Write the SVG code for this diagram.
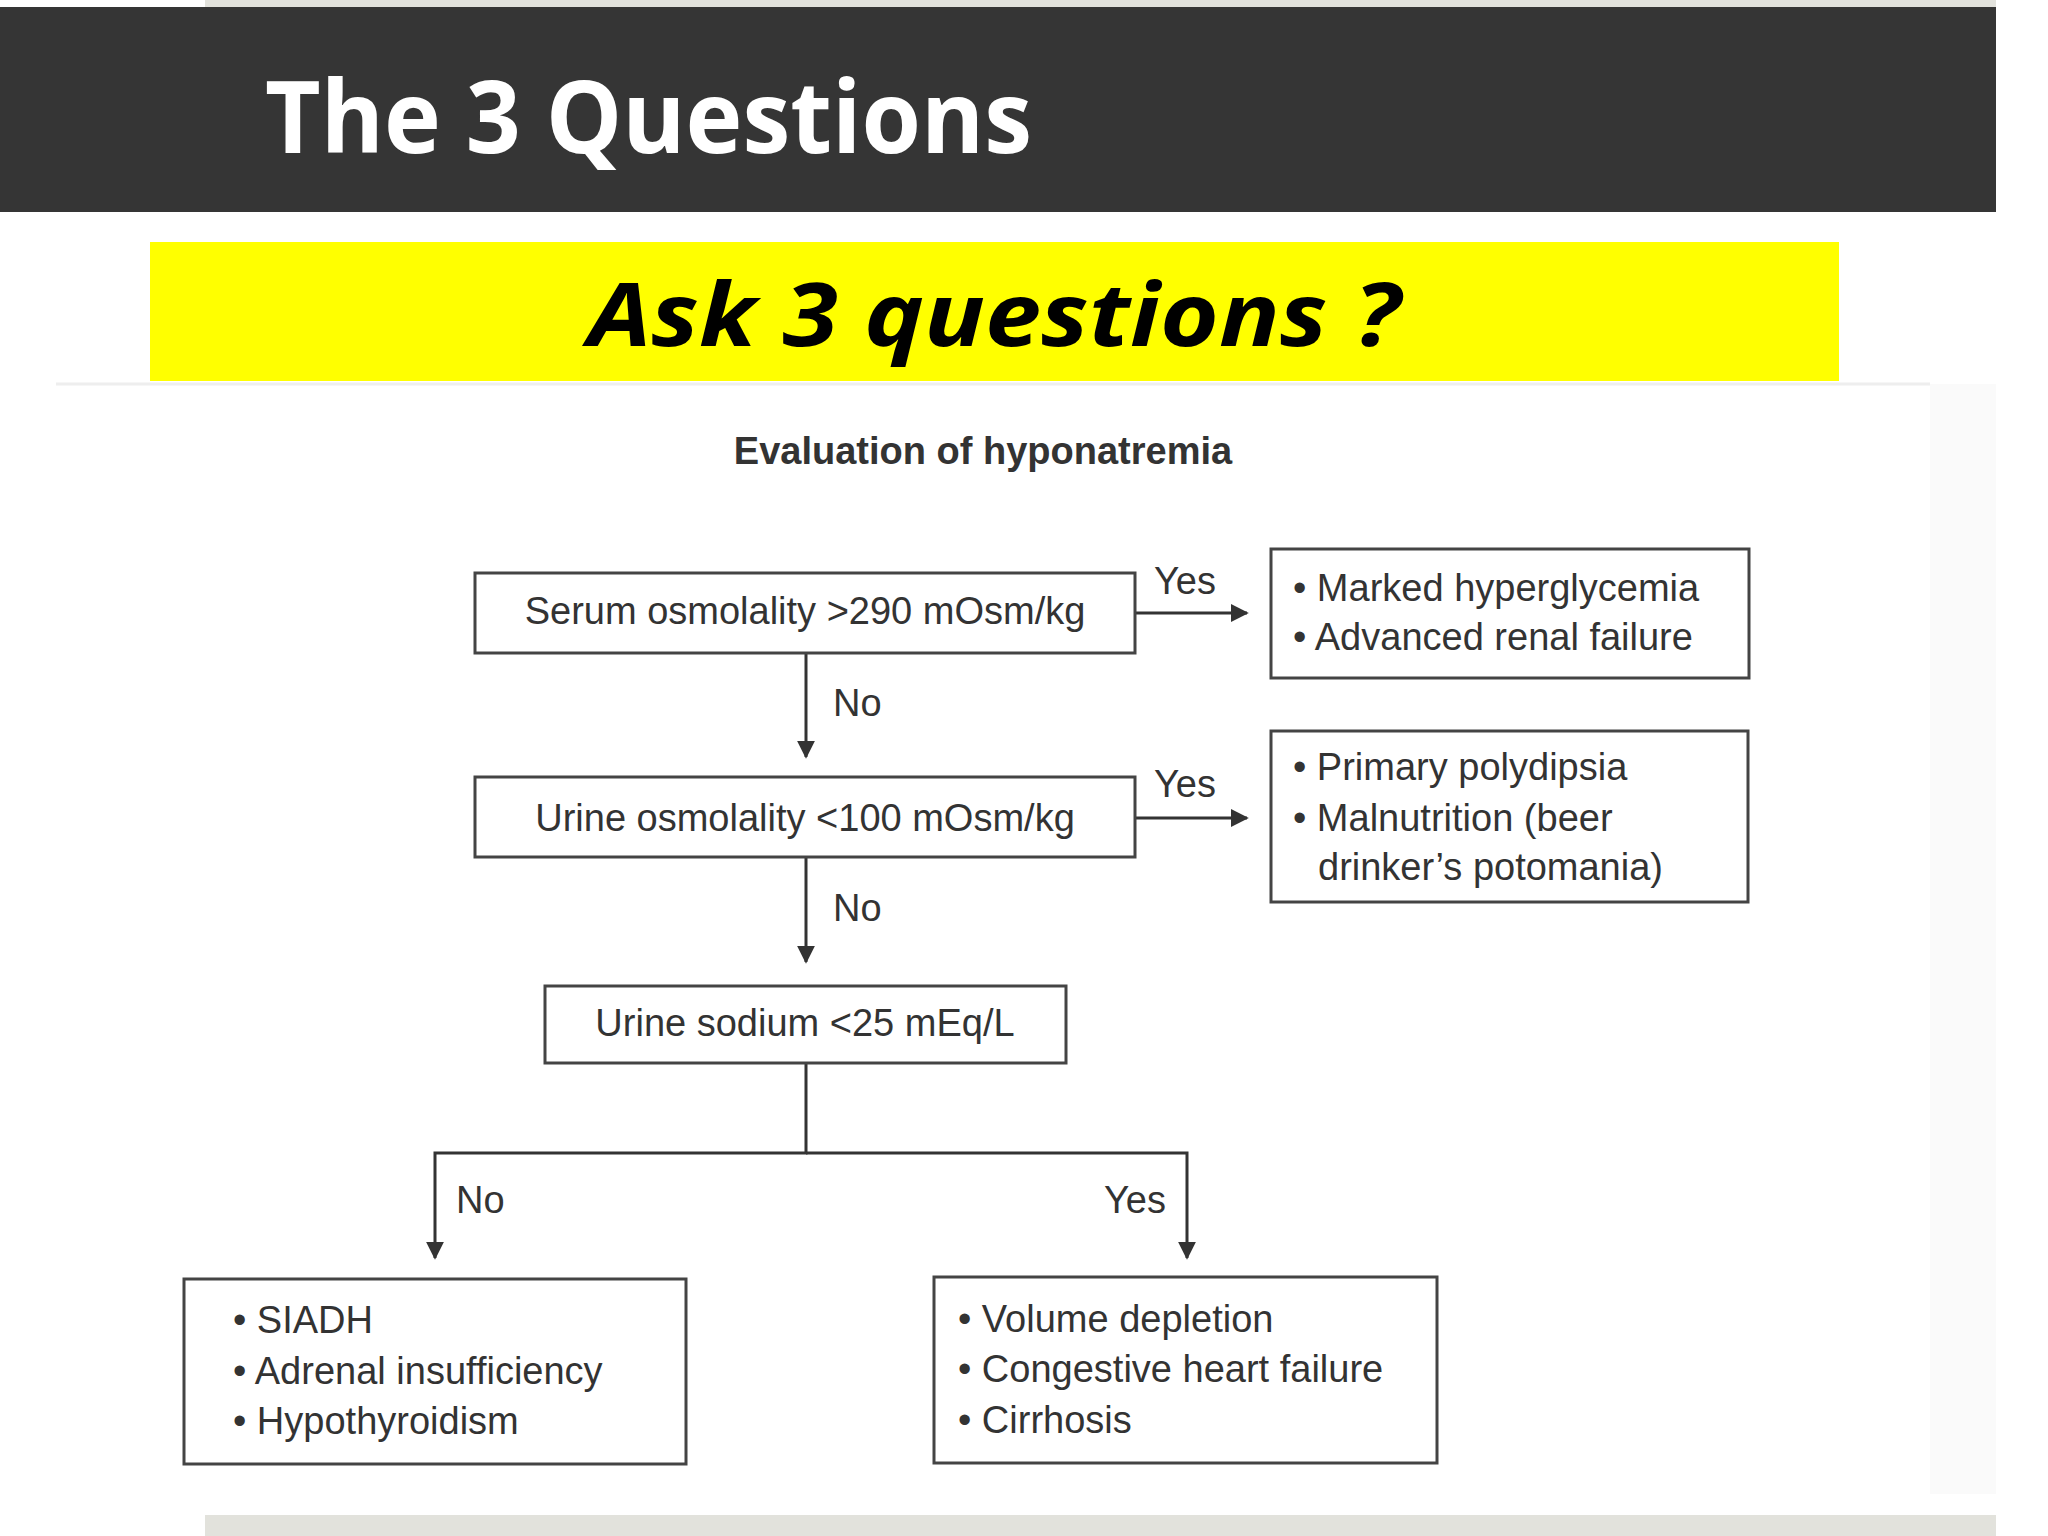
<svg xmlns="http://www.w3.org/2000/svg" width="2048" height="1536" viewBox="0 0 2048 1536">
<defs>
<style>
.t{font-family:"Liberation Sans",Arial,sans-serif;font-size:38px;fill:#333}
.b{fill:#fff;stroke:#444;stroke-width:3}
.c{stroke:#333;stroke-width:3;fill:none}
</style>
<marker id="a" viewBox="0 0 10 10" refX="9" refY="5" markerWidth="6" markerHeight="6" orient="auto"><path d="M0,0L10,5L0,10z" fill="#333"/></marker>
</defs>
<rect width="2048" height="1536" fill="#fff"/>
<rect x="205" y="0" width="1791" height="7" fill="#e2e2dc"/>
<rect x="0" y="7" width="1996" height="205" fill="#353535"/>
<text x="265" y="153" font-family="'Open Sans',sans-serif" font-weight="bold" font-size="100" fill="#fff" textLength="767" lengthAdjust="spacingAndGlyphs">The 3 Questions</text>
<rect x="150" y="242" width="1689" height="139" fill="#ffff00"/>
<text x="588" y="346" font-family="'Open Sans',sans-serif" font-weight="bold" font-style="italic" font-size="88" fill="#000" textLength="812" lengthAdjust="spacingAndGlyphs">Ask 3 questions ?</text>
<line x1="56" y1="384" x2="1930" y2="384" stroke="#eee" stroke-width="3"/>
<rect x="1930" y="384" width="66" height="1110" fill="#fafafa"/>
<rect x="205" y="1515" width="1791" height="21" fill="#e2e2dc"/>
<text class="t" x="983" y="464" text-anchor="middle" font-weight="bold" font-size="40">Evaluation of hyponatremia</text>
<g id="connectors">
<line class="c" x1="1135" y1="613" x2="1247" y2="613" marker-end="url(#a)"/>
<line class="c" x1="806" y1="653" x2="806" y2="757" marker-end="url(#a)"/>
<line class="c" x1="1135" y1="818" x2="1247" y2="818" marker-end="url(#a)"/>
<line class="c" x1="806" y1="857" x2="806" y2="962" marker-end="url(#a)"/>
<polyline class="c" points="806,1063 806,1153 435,1153 435,1258" marker-end="url(#a)"/>
<polyline class="c" points="806,1153 1187,1153 1187,1258" marker-end="url(#a)"/>
<text class="t" x="1185" y="594" text-anchor="middle">Yes</text>
<text class="t" x="833" y="716">No</text>
<text class="t" x="1185" y="797" text-anchor="middle">Yes</text>
<text class="t" x="833" y="921">No</text>
<text class="t" x="456" y="1213">No</text>
<text class="t" x="1104" y="1213">Yes</text>
</g>
<g id="n1"><rect class="b" x="475" y="573" width="660" height="80"/><text class="t" x="805" y="624" text-anchor="middle">Serum osmolality &gt;290 mOsm/kg</text></g>
<g id="r1"><rect class="b" x="1271" y="549" width="478" height="129"/><text class="t" x="1293" y="601">• Marked hyperglycemia</text><text class="t" x="1293" y="650">• Advanced renal failure</text></g>
<g id="n2"><rect class="b" x="475" y="777" width="660" height="80"/><text class="t" x="805" y="831" text-anchor="middle">Urine osmolality &lt;100 mOsm/kg</text></g>
<g id="r2"><rect class="b" x="1271" y="731" width="477" height="171"/><text class="t" x="1293" y="780">• Primary polydipsia</text><text class="t" x="1293" y="831">• Malnutrition (beer</text><text class="t" x="1318" y="880">drinker’s potomania)</text></g>
<g id="n3"><rect class="b" x="545" y="986" width="521" height="77"/><text class="t" x="805" y="1036" text-anchor="middle">Urine sodium &lt;25 mEq/L</text></g>
<g id="l"><rect class="b" x="184" y="1279" width="502" height="185"/><text class="t" x="233" y="1333">• SIADH</text><text class="t" x="233" y="1384">• Adrenal insufficiency</text><text class="t" x="233" y="1434">• Hypothyroidism</text></g>
<g id="r"><rect class="b" x="934" y="1277" width="503" height="186"/><text class="t" x="958" y="1332">• Volume depletion</text><text class="t" x="958" y="1382">• Congestive heart failure</text><text class="t" x="958" y="1433">• Cirrhosis</text></g>
</svg>
